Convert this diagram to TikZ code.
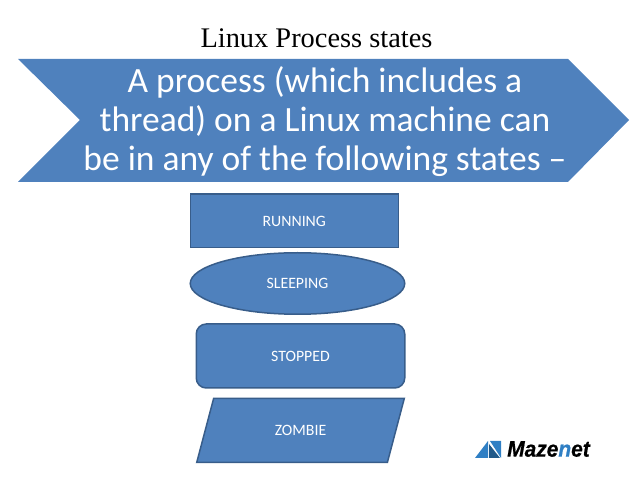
\documentclass[tikz,border=0pt]{standalone}
\usepackage{fontspec}
\setmainfont{Carlito}
\newfontfamily\titlefont{Liberation Serif}
\newfontfamily\logofont[FakeStretch=0.93,FakeBold=0.6]{Liberation Sans}
\usetikzlibrary{shapes.geometric}
\definecolor{stateblue}{HTML}{4F81BD}
\definecolor{stateedge}{HTML}{385D8A}
\definecolor{logoblue}{HTML}{2F7FC4}
\begin{document}
\begin{tikzpicture}[x=1pt,y=-1pt]

      \useasboundingbox (0,0) rectangle (638,478);

      \node (title) at (316.5,38) {\titlefont\fontsize{28.4}{30}\selectfont Linux Process states};

      \fill[stateblue] (18,59) -- (568,59) -- (629,120) -- (568,182) -- (18,182) -- (80,120) -- cycle;
      \node[text=white,align=center,font=\fontsize{35.5}{39}\selectfont] (intro) at (325,122)
        {A process (which includes a\\thread) on a Linux machine can\\be in any of the following states --};

      \begin{scope}[every node/.style={draw=stateedge,fill=stateblue,line width=1.5pt,text=white,
          outer sep=0pt,inner sep=0pt,font=\fontsize{15.8}{18}\selectfont}]
        \node[rectangle,minimum width=208pt,minimum height=53.5pt] (running) at (294.25,221) {RUNNING};
        \node[ellipse,minimum width=214.5pt,minimum height=61.5pt] (sleeping) at (297.5,283.5) {SLEEPING};
        \node[rectangle,rounded corners=10pt,minimum width=208.5pt,minimum height=64pt] (stopped) at (300.5,356) {STOPPED};
        \node[trapezium,trapezium left angle=64.2,trapezium right angle=115.8,trapezium stretches=true,
          minimum width=208.5pt,minimum height=64pt] (zombie) at (300.5,430.5) {ZOMBIE};
      \end{scope}

      \fill[logoblue] (475,458) -- (488,441) -- (488,458) -- cycle;
      \fill[logoblue] (490,441) -- (501,441) -- (501,458) -- cycle;
      \fill[logoblue!70!black] (489,444) -- (500,458) -- (489,458) -- cycle;
      \node[inner sep=0pt,font=\logofont\bfseries\itshape\fontsize{22.5}{24}\selectfont] (logo) at (548.5,449)
        {Maze\textcolor{logoblue}{n}et};

    \end{tikzpicture}
\end{document}
